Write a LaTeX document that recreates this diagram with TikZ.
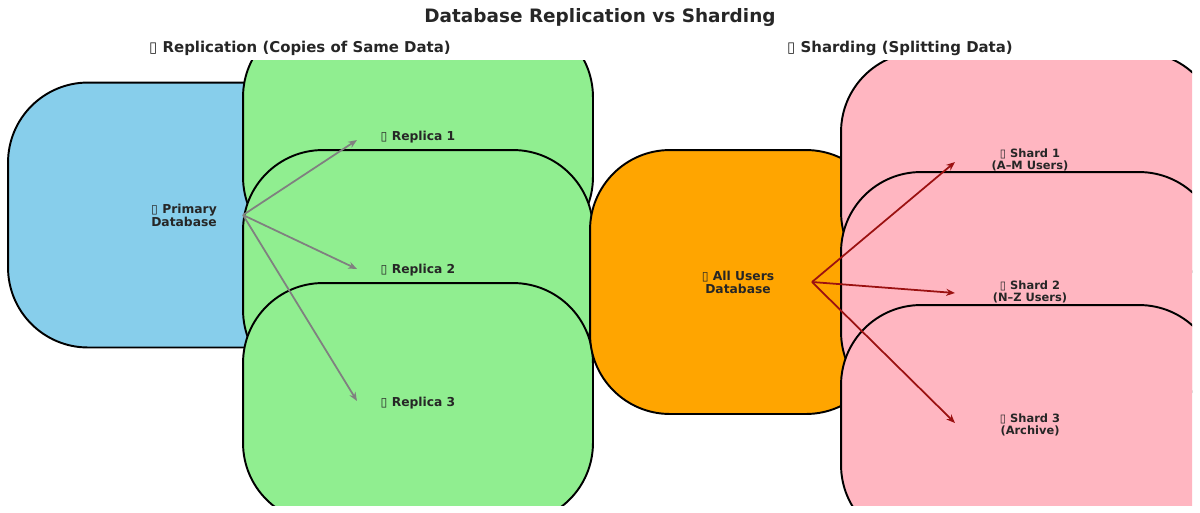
\documentclass[tikz,border=0pt]{standalone}
\usepackage{fontspec}
\setmainfont{DejaVu Sans}
\usetikzlibrary{positioning,arrows.meta}
\definecolor{skyblue}{HTML}{87CEEB}
\definecolor{lightgreen}{HTML}{90EE90}
\definecolor{orangefill}{HTML}{FFA500}
\definecolor{lightpink}{HTML}{FFB6C1}
\definecolor{arrowred}{HTML}{9B1111}
\tikzset{
  dbbox/.style={rectangle, draw=black, line width=1.1pt, rounded corners=1.6cm, inner sep=0pt},
  lbl/.style={font=\bfseries\fontsize{7}{7.5}\selectfont, text=black!85, align=center},
  sublbl/.style={font=\bfseries\fontsize{6.5}{5.5}\selectfont, text=black!85, align=center},
  ttl/.style={font=\bfseries\fontsize{8.5}{10}\selectfont, text=black!85},
  rep/.style={-{Stealth[length=5pt,width=4pt]}, draw=gray, line width=1pt},
  shd/.style={-{Stealth[length=5pt,width=4pt]}, draw=arrowred, line width=1pt}
}
\begin{document}
\begin{tikzpicture}[x=0.02cm,y=-0.02cm]
\useasboundingbox (0,0) rectangle (1200,512);
\node[font=\bfseries\fontsize{10.5}{12}\selectfont, text=black!85] (title) at (600,17) {Database Replication vs Sharding};
\node[ttl] (reptitle) at (300,48) {▯ Replication (Copies of Same Data)};
\node[ttl] (shdtitle) at (900,48) {▯ Sharding (Splitting Data)};
\begin{scope}
\clip (0,60) rectangle (1192,505);
% replication side
\node[dbbox, fill=skyblue, minimum width=7.04cm, minimum height=5.3cm] (primary) at (184,215) {};
\node[dbbox, fill=lightgreen, minimum width=7cm, minimum height=4.8cm] (replica1) at (418,137) {};
\node[dbbox, fill=lightgreen, minimum width=7cm, minimum height=4.8cm] (replica2) at (418,270) {};
\node[dbbox, fill=lightgreen, minimum width=7cm, minimum height=4.8cm] (replica3) at (418,403) {};
% sharding side
\node[dbbox, fill=orangefill, minimum width=5.92cm, minimum height=5.28cm] (allusers) at (738,282) {};
\node[dbbox, fill=lightpink, minimum width=7.56cm, minimum height=4.8cm] (shard1) at (1030,172) {};
\node[dbbox, fill=lightpink, minimum width=7.56cm, minimum height=4.8cm] (shard2) at (1030,292) {};
\node[dbbox, fill=lightpink, minimum width=7.56cm, minimum height=4.8cm] (shard3) at (1030,425) {};
\end{scope}
\node[lbl] (primarylbl) at (184,215) {▯ Primary\\Database};
\node[lbl] (rep1lbl) at (418,137) {▯ Replica 1};
\node[lbl] (rep2lbl) at (418,270) {▯ Replica 2};
\node[lbl] (rep3lbl) at (418,403) {▯ Replica 3};
\node[lbl] (alllbl) at (738,282) {▯ All Users\\Database};
\node[sublbl] (shd1lbl) at (1030,160) {▯ Shard 1\\(A–M Users)};
\node[sublbl] (shd2lbl) at (1030,292) {▯ Shard 2\\(N–Z Users)};
\node[sublbl] (shd3lbl) at (1030,425) {▯ Shard 3\\(Archive)};
% arrows
\coordinate (repsrc) at (243,215);
\coordinate (rep1end) at (357,140);
\coordinate (rep2end) at (357,269);
\coordinate (rep3end) at (357,401);
\draw[rep] (repsrc) -- (rep1end);
\draw[rep] (repsrc) -- (rep2end);
\draw[rep] (repsrc) -- (rep3end);
\coordinate (shdsrc) at (812,282);
\coordinate (shd1end) at (955,162);
\coordinate (shd2end) at (955,293);
\coordinate (shd3end) at (955,423);
\draw[shd] (shdsrc) -- (shd1end);
\draw[shd] (shdsrc) -- (shd2end);
\draw[shd] (shdsrc) -- (shd3end);
\end{tikzpicture}
\end{document}
